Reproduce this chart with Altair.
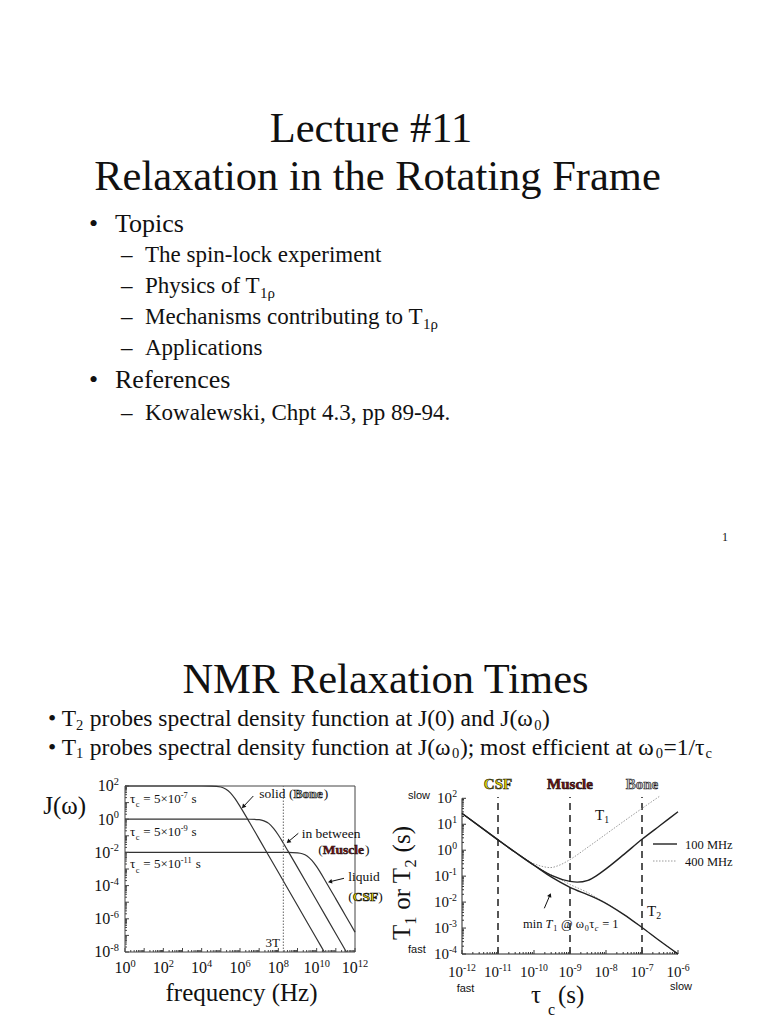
import math
import altair as alt
import pandas as pd

SERIF = "Liberation Serif"
SANS = "Liberation Sans"
INK = "#111111"

# ---------------- slide text ----------------
LECTURE_TITLE = ["Lecture #11", "Relaxation in the Rotating Frame"]
HEADS = ["Topics", "References"]
TOPIC_ITEMS = [
    [("The spin-lock experiment", "n")],
    [("Physics of T", "n"), ("1ρ", "b")],
    [("Mechanisms contributing to T", "n"), ("1ρ", "b")],
    [("Applications", "n")],
]
REF_ITEMS = ["Kowalewski, Chpt 4.3, pp 89-94."]
PAGE_NO = "1"
NMR_TITLE = "NMR Relaxation Times"
NMR_BULLETS = [
    [("T", "n"), ("2", "b"), (" probes spectral density function at J(0) and J(ω", "n"), ("0", "b"), (")", "n")],
    [("T", "n"), ("1", "b"), (" probes spectral density function at J(ω", "n"), ("0", "b"),
     ("); most efficient at ω", "n"), ("0", "b"), ("=1/τ", "n"), ("c", "b")],
]

# ---------------- left plot: J(omega) (log10 values) ----------------
BONE_LOGF = [0, 4, 4.5, 5, 5.25, 5.5, 5.75, 6, 6.5, 7, 8, 9, 10, 10.4]
BONE_LOGJ = [2.0, 2.0, 1.99, 1.94, 1.82, 1.59, 1.22, 0.77, -0.2, -1.2, -3.2, -5.2, -7.2, -8.0]
MUSCLE_LOGF = [0, 6, 6.5, 7, 7.25, 7.5, 7.75, 8, 8.25, 8.5, 9, 10, 11, 11.55]
MUSCLE_LOGJ = [0, 0, -0.003, -0.03, -0.1, -0.25, -0.55, -0.95, -1.42, -1.91, -2.9, -4.9, -6.9, -8.0]
CSF_LOGF = [0, 8, 8.5, 9, 9.25, 9.5, 9.75, 10, 10.5, 11, 11.5, 12]
CSF_LOGJ = [-2, -2, -2.0, -2.03, -2.08, -2.21, -2.48, -2.86, -3.81, -4.8, -5.8, -6.8]
FIELD_3T_LOGF = 8.26
TAU_LABELS = [("5×10", "-7"), ("5×10", "-9"), ("5×10", "-11")]
LEFT_X_EXP = [0, 2, 4, 6, 8, 10, 12]
LEFT_Y_EXP = [-8, -6, -4, -2, 0, 2]

# ---------------- right plot: T1 / T2 vs tau_c ----------------
T1_100_LOGTAU = [-12, -11, -10.5, -10, -9.5, -9.0, -8.8, -8.5, -8.26, -8.0, -7.5, -7.0, -6.5, -6.0]
T1_100_LOGT = [1.42, 0.40, -0.10, -0.58, -0.98, -1.20, -1.23, -1.16, -0.98, -0.72, -0.16, 0.42, 0.95, 1.48]
T1_400_LOGTAU = [-12, -11, -10.5, -10.2, -10, -9.75, -9.55, -9.3, -9.0, -8.5, -8.0, -7.5, -7.0, -6.5]
T1_400_LOGT = [1.42, 0.40, -0.10, -0.38, -0.52, -0.63, -0.67, -0.58, -0.36, 0.12, 0.62, 1.12, 1.61, 2.09]
T2_100_LOGTAU = [-12, -11, -10.5, -10, -9.5, -9.0, -8.5, -8.2, -7.5, -7.0, -6.5, -6.0]
T2_100_LOGT = [1.42, 0.40, -0.10, -0.58, -1.05, -1.43, -1.72, -1.90, -2.48, -2.98, -3.50, -4.0]
T2_400_LOGTAU = [-12, -11, -10.5, -10, -9.7, -9.3, -9.0, -8.5, -8.2, -7.5, -7.0, -6.5, -6.0]
T2_400_LOGT = [1.42, 0.40, -0.10, -0.56, -0.82, -1.10, -1.32, -1.64, -1.88, -2.48, -2.98, -3.50, -4.0]
FREQS = ["100 MHz", "400 MHz"]
FREQ_COLORS = ["#222222", "#9a9a9a"]
TISSUES = ["CSF", "Muscle", "Bone"]
TISSUE_TAU = [1e-11, 1e-9, 1e-7]
TISSUE_FILL = ["#e8dc00", "#7a1010", "#c4c4c4"]
RIGHT_X_EXP = [-12, -11, -10, -9, -8, -7, -6]
RIGHT_Y_EXP = [-4, -3, -2, -1, 0, 1, 2]

ONE = pd.DataFrame({"k": [0]})

# Times / Liberation Serif advance widths (per 1000 em)
W = {' ': 250, '#': 500, '(': 333, ')': 333, ',': 250, '-': 333, '.': 250, '/': 278, ':': 278, ';': 278,
     '=': 564, '@': 921, '×': 564, '–': 500, '•': 350, 'ω': 720, 'τ': 440, 'ρ': 500,
     'A': 722, 'B': 667, 'C': 667, 'D': 722, 'E': 611, 'F': 556, 'G': 722, 'H': 722, 'I': 333, 'J': 389,
     'K': 722, 'L': 611, 'M': 889, 'N': 722, 'O': 722, 'P': 556, 'R': 667, 'S': 556, 'T': 611, 'W': 944,
     'a': 444, 'b': 500, 'c': 444, 'd': 500, 'e': 444, 'f': 333, 'g': 500, 'h': 500, 'i': 278, 'j': 278,
     'k': 500, 'l': 278, 'm': 778, 'n': 500, 'o': 500, 'p': 500, 'q': 500, 'r': 333, 's': 389, 't': 278,
     'u': 500, 'v': 500, 'w': 722, 'x': 500, 'y': 500, 'z': 444}


def tw(s, size, bold=False):
    return sum(W.get(c, 500) for c in s) * size / 1000.0 * (1.06 if bold else 1.0)


def txt(s, x, y, size, font=SERIF, color=INK, align="left", weight="normal", style="normal",
        angle=0, stroke=None, sw=0.5, baseline="alphabetic"):
    props = dict(text=s, align=align, baseline=baseline, font=font, fontSize=size,
                 fontWeight=weight, fontStyle=style, color=color)
    if angle:
        props["angle"] = angle
    if stroke:
        props["stroke"] = stroke
        props["strokeWidth"] = sw
    return alt.Chart(ONE).mark_text(**props).encode(x=alt.value(x), y=alt.value(y))


def rich(segs, x, y, size, angle=0, font=SERIF, color=INK, sub_shift=0.22, sup_shift=0.38, scale=0.65):
    out = []
    adv = 0.0
    for seg in segs:
        s, kind = seg[0], seg[1]
        opts = dict(seg[2]) if len(seg) > 2 else {}
        if kind == "b":
            fs, sh = size * scale, size * sub_shift
        elif kind == "p":
            fs, sh = size * scale, -size * sup_shift
        else:
            fs, sh = size, 0.0
        bold = opts.get("weight") == "bold"
        lead = len(s) - len(s.lstrip(" "))
        core = s.strip(" ")
        a0 = adv + tw(" " * lead, fs)
        if core:
            if angle == 270:
                px, py = x + sh, y - a0
            else:
                px, py = x + a0, y + sh
            c = opts.pop("color", color)
            out.append(txt(core, px, py, fs, font=font, color=c, angle=angle, **opts))
        adv += tw(s, fs, bold) + (0.6 if kind in ("b", "p") else 0.0)
    return out


def arrow(x1, y1, x2, y2, color=INK):
    ang = math.degrees(math.atan2(x2 - x1, -(y2 - y1)))
    if ang < 0:
        ang += 360
    line = alt.Chart(ONE).mark_rule(color=color, strokeWidth=1).encode(
        x=alt.value(x1), y=alt.value(y1), x2=alt.value(x2), y2=alt.value(y2))
    head = alt.Chart(ONE).mark_point(shape="triangle-up", filled=True, color=color, opacity=1,
                                     size=22, angle=ang).encode(x=alt.value(x2), y=alt.value(y2))
    return [line, head]


def x_power_labels(exps, Xf, field, size, base_y, rise=0.40):
    """'10' plus a raised exponent, centred under each tick of a log x scale."""
    out = []
    w10 = tw("10", size)
    groups = {}
    for k in exps:
        groups.setdefault(round(tw(str(k), size * 0.65), 2), []).append(k)
    for ew, ks in groups.items():
        total = w10 + ew
        d = pd.DataFrame({field: [10.0 ** k for k in ks], "lab": [str(k) for k in ks]})
        out.append(alt.Chart(d).mark_text(text="10", align="left", baseline="alphabetic", font=SERIF,
                                          fontSize=size, color=INK, dx=-total / 2).encode(
            x=Xf(field), y=alt.value(base_y)))
        out.append(alt.Chart(d).mark_text(align="left", baseline="alphabetic", font=SERIF,
                                          fontSize=size * 0.65, color=INK, dx=-total / 2 + w10).encode(
            x=Xf(field), y=alt.value(base_y - size * rise), text="lab:N"))
    return out


def y_power_labels(exps, Yf, field, size, right_x, rise=0.40):
    """'10' plus a raised exponent, right-aligned left of a log y scale."""
    out = []
    d_all = pd.DataFrame({field: [10.0 ** k for k in exps], "lab": [str(k) for k in exps]})
    out.append(alt.Chart(d_all).mark_text(align="right", baseline="alphabetic", font=SERIF,
                                          fontSize=size * 0.65, color=INK,
                                          dy=size * 0.34 - size * rise).encode(
        y=Yf(field), x=alt.value(right_x), text="lab:N"))
    groups = {}
    for k in exps:
        groups.setdefault(round(tw(str(k), size * 0.65), 2), []).append(k)
    for ew, ks in groups.items():
        d = pd.DataFrame({field: [10.0 ** k for k in ks]})
        out.append(alt.Chart(d).mark_text(text="10", align="right", baseline="alphabetic", font=SERIF,
                                          fontSize=size, color=INK, dy=size * 0.34).encode(
            y=Yf(field), x=alt.value(right_x - ew)))
    return out


# ================= top text panel =================
TOPW, TOPH = 752, 770
top_marks = [
    txt(LECTURE_TITLE[0], 363, 134, 42.5, align="center"),
    txt(LECTURE_TITLE[1], 369.5, 182, 42.5, align="center"),
    txt("•", 81, 224, 26), txt(HEADS[0], 107, 224, 26),
]
for i, segs in enumerate(TOPIC_ITEMS):
    yy = 254 + i * 31
    top_marks.append(txt("–", 113, yy, 23))
    top_marks += rich(segs, 137, yy, 23)
top_marks += [txt("•", 81, 380, 26), txt(HEADS[1], 107, 380, 26),
              txt("–", 113, 412, 23), txt(REF_ITEMS[0], 137, 412, 23),
              txt(PAGE_NO, 714, 533, 12),
              txt(NMR_TITLE, 377.5, 685, 42.5, align="center")]
for i, segs in enumerate(NMR_BULLETS):
    yy = 718 + i * 28.5
    top_marks.append(txt("•", 40, yy, 23.5))
    top_marks += rich(segs, 53.7, yy, 23.5, sub_shift=0.16, scale=0.62)
top = alt.layer(*top_marks).properties(width=TOPW, height=TOPH)

# ================= left plot =================
LW, LH = 230, 166
xL = alt.Scale(type="log", domain=[1, 1e12])
yL = alt.Scale(type="log", domain=[1e-8, 1e2])


def XL(f):
    return alt.X(f, type="quantitative", scale=xL, axis=None)


def YL(f):
    return alt.Y(f, type="quantitative", scale=yL, axis=None)


rows = []
for name, (lf, lj) in {"bone": (BONE_LOGF, BONE_LOGJ), "muscle": (MUSCLE_LOGF, MUSCLE_LOGJ),
                       "csf": (CSF_LOGF, CSF_LOGJ)}.items():
    for a, b in zip(lf, lj):
        rows.append({"f": 10.0 ** a, "J": 10.0 ** b, "s": name})
df_left = pd.DataFrame(rows)

left_lines = alt.Chart(df_left).mark_line(color="#333", strokeWidth=1.2, interpolate="monotone").encode(
    x=XL("f"), y=YL("J"), detail="s:N")
frame = alt.Chart(ONE).mark_rect(fillOpacity=0, stroke="#444", strokeWidth=1).encode(
    x=alt.value(0), x2=alt.value(LW), y=alt.value(0), y2=alt.value(LH))
dot3t = alt.Chart(pd.DataFrame({"f": [10 ** FIELD_3T_LOGF], "J": [1e-8], "J2": [1e2]})).mark_rule(
    color="#666", strokeDash=[1.5, 1.5], strokeWidth=1).encode(x=XL("f"), y=YL("J"), y2="J2:Q")
lx_major = pd.DataFrame({"f": [10.0 ** k for k in range(0, 13)]})
lx_minor = pd.DataFrame({"f": [m * 10.0 ** k for k in range(0, 12) for m in range(2, 10)]})
ly_major = pd.DataFrame({"J": [10.0 ** k for k in range(-8, 3)]})
ly_minor = pd.DataFrame({"J": [m * 10.0 ** k for k in range(-8, 2) for m in range(2, 10)]})
ticks_left = [
    alt.Chart(lx_major).mark_rule(color="#444").encode(x=XL("f"), y=alt.value(LH), y2=alt.value(LH - 4)),
    alt.Chart(lx_minor).mark_rule(color="#444").encode(x=XL("f"), y=alt.value(LH), y2=alt.value(LH - 2)),
    alt.Chart(ly_major).mark_rule(color="#444").encode(y=YL("J"), x=alt.value(0), x2=alt.value(4)),
    alt.Chart(ly_minor).mark_rule(color="#444").encode(y=YL("J"), x=alt.value(0), x2=alt.value(2)),
]
labels_left = x_power_labels(LEFT_X_EXP, XL, "f", 16, LH + 21) + y_power_labels(LEFT_Y_EXP, YL, "J", 16, -6)

BONE_STYLE = {"weight": "bold", "color": "#c4c4c4", "stroke": "#111", "sw": 0.7}
MUSCLE_STYLE = {"weight": "bold", "color": "#7a1010", "stroke": "#111", "sw": 0.5}
CSF_STYLE = {"weight": "bold", "color": "#e8dc00", "stroke": "#111", "sw": 0.7}

left_text = []
for i, (mant, ex) in enumerate(TAU_LABELS):
    left_text += rich([("τ", "n"), ("c", "b"), (" = " + mant, "n"), (ex, "p"), (" s", "n")],
                      5, 16.7 + i * 32.8, 13, sub_shift=0.35)
left_text += rich([("solid (", "n"), ("Bone", "n", BONE_STYLE), (")", "n")], 134.3, 12.3, 13.5)
left_text += [txt("in between", 176.7, 52.3, 13.5)]
left_text += rich([("(", "n"), ("Muscle", "n", MUSCLE_STYLE), (")", "n")], 193.3, 68, 13.5)
left_text += [txt("liquid", 223.3, 94.7, 13.5)]
left_text += rich([("(", "n"), ("CSF", "n", CSF_STYLE), (")", "n")], 223.3, 114.7, 13.5)
left_text += [txt("3T", 155, 160.7, 13, align="right"),
              txt("J(ω)", -81.7, 27.5, 25),
              txt("frequency (Hz)", 116.5, 214.5, 25, align="center")]
left_text += arrow(128.3, 10, 118.3, 20.7) + arrow(173.3, 47.3, 163.3, 55.7) + arrow(219, 92.3, 205, 95.7)

left = alt.layer(frame, left_lines, dot3t, *ticks_left, *labels_left, *left_text).properties(
    width=LW, height=LH)

# ================= right plot =================
RW, RH = 216, 168
xR = alt.Scale(type="log", domain=[1e-12, 1e-6])
yR = alt.Scale(type="log", domain=[1e-4, 298])


def XR(f):
    return alt.X(f, type="quantitative", scale=xR, axis=None)


def YR(f):
    return alt.Y(f, type="quantitative", scale=yR, axis=None)


rows = []
for freq, kind, lt, lv in [("400 MHz", "T1", T1_400_LOGTAU, T1_400_LOGT),
                           ("400 MHz", "T2", T2_400_LOGTAU, T2_400_LOGT),
                           ("100 MHz", "T1", T1_100_LOGTAU, T1_100_LOGT),
                           ("100 MHz", "T2", T2_100_LOGTAU, T2_100_LOGT)]:
    for a, b in zip(lt, lv):
        rows.append({"tau": 10.0 ** a, "T": 10.0 ** b, "freq": freq, "kind": kind})
df_right = pd.DataFrame(rows)

FREQ_STYLE = {"100 MHz": dict(color=FREQ_COLORS[0], strokeWidth=1.4),
              "400 MHz": dict(color=FREQ_COLORS[1], strokeWidth=1.0, strokeDash=[1.5, 1.5])}
curves = [
    alt.Chart(df_right).transform_filter(alt.datum.freq == f).mark_line(
        interpolate="monotone", **FREQ_STYLE[f]).encode(x=XR("tau"), y=YR("T"), detail="kind:N")
    for f in ["400 MHz", "100 MHz"]
]
axes_lines = [
    alt.Chart(pd.DataFrame({"tau": [1e-12], "T": [1e-4], "T2": [1e2]})).mark_rule(
        color="#222", strokeWidth=1).encode(x=XR("tau"), y=YR("T"), y2="T2:Q"),
    alt.Chart(pd.DataFrame({"tau": [1e-12], "tau2": [1e-6], "T": [1e-4]})).mark_rule(
        color="#222", strokeWidth=1).encode(x=XR("tau"), x2="tau2:Q", y=YR("T")),
]
tissue_lines = alt.Chart(pd.DataFrame({"tau": TISSUE_TAU, "T": [1e-4] * 3, "T2": [10 ** 2.05] * 3})).mark_rule(
    color="#555", strokeWidth=2, strokeDash=[7, 5]).encode(x=XR("tau"), y=YR("T"), y2="T2:Q")
tissue_text = alt.Chart(pd.DataFrame({"tau": TISSUE_TAU, "name": TISSUES, "fill": TISSUE_FILL})).mark_text(
    font=SERIF, fontSize=15, fontWeight="bold", align="center", baseline="alphabetic",
    stroke="#111", strokeWidth=0.6).encode(x=XR("tau"), y=alt.value(3), text="name:N",
                                           color=alt.Color("fill:N", scale=None))
rx_major = pd.DataFrame({"tau": [10.0 ** k for k in range(-12, -5)]})
rx_minor = pd.DataFrame({"tau": [m * 10.0 ** k for k in range(-12, -6) for m in range(2, 10)]})
ry_major = pd.DataFrame({"T": [10.0 ** k for k in range(-4, 3)]})
ry_minor = pd.DataFrame({"T": [m * 10.0 ** k for k in range(-4, 2) for m in range(2, 10)]})
ticks_right = [
    alt.Chart(rx_major).mark_rule(color="#333").encode(x=XR("tau"), y=alt.value(RH), y2=alt.value(RH - 4)),
    alt.Chart(rx_minor).mark_rule(color="#333").encode(x=XR("tau"), y=alt.value(RH), y2=alt.value(RH - 2)),
    alt.Chart(ry_major).mark_rule(color="#333").encode(y=YR("T"), x=alt.value(0), x2=alt.value(4)),
    alt.Chart(ry_minor).mark_rule(color="#333").encode(y=YR("T"), x=alt.value(0), x2=alt.value(2)),
]
labels_right = x_power_labels(RIGHT_X_EXP, XR, "tau", 15, RH + 22.5) + y_power_labels(RIGHT_Y_EXP, YR, "T", 15, -5)

# legend drawn as keys
legend_marks = []
for i, f in enumerate(FREQS):
    st = dict(FREQ_STYLE[f])
    legend_marks.append(alt.Chart(ONE).mark_rule(**st).encode(
        x=alt.value(191), x2=alt.value(215), y=alt.value(58 + 17 * i)))
    legend_marks.append(txt(f, 223, 62.5 + 17 * i, 12.5))

right_text = [
    txt("slow", -54, 13.3, 11, font=SANS), txt("fast", -54, 167.3, 11, font=SANS),
    txt("fast", -5.3, 205.7, 11, font=SANS), txt("slow", 208, 204, 11, font=SANS),
    txt("τ", 69, 217.3, 25), txt("c", 86, 229, 16), txt("(s)", 96, 217.3, 25),
]
right_text += rich([("T", "n"), ("1", "b"), (" or T", "n"), ("2", "b"), (" (s)", "n")], -52, 154, 25, angle=270)
right_text += rich([("T", "n"), ("1", "b")], 133, 34, 15)
right_text += rich([("T", "n"), ("2", "b")], 185, 130, 15)
right_text += rich([("min ", "n"), ("T", "n", {"style": "italic"}), ("1", "b"), (" @ ", "n"), ("ω", "n"),
                    ("0", "b"), ("τ", "n"), ("c", "b", {"style": "italic"}), (" = 1", "n")], 61, 142, 12.5)
right_text += arrow(82.3, 122.3, 88, 109)

right = alt.layer(*axes_lines, tissue_lines, *ticks_right, *curves, tissue_text, *labels_right,
                  *legend_marks, *right_text).properties(width=RW, height=RH)


def spacer(w, h):
    return alt.Chart(ONE).mark_text(text="").encode(x=alt.value(0), y=alt.value(0)).properties(width=w, height=h)


bottom = alt.hconcat(spacer(117, LH), left, spacer(107, RH), right, spacing=0, bounds="flush")
chart = alt.vconcat(top, bottom, spacing=8, bounds="flush").properties(
    padding={"left": 0, "top": 0, "right": 0, "bottom": 0}
).configure_view(stroke=None)

chart.save("out.html", embed_options={"renderer": "svg", "actions": False})
